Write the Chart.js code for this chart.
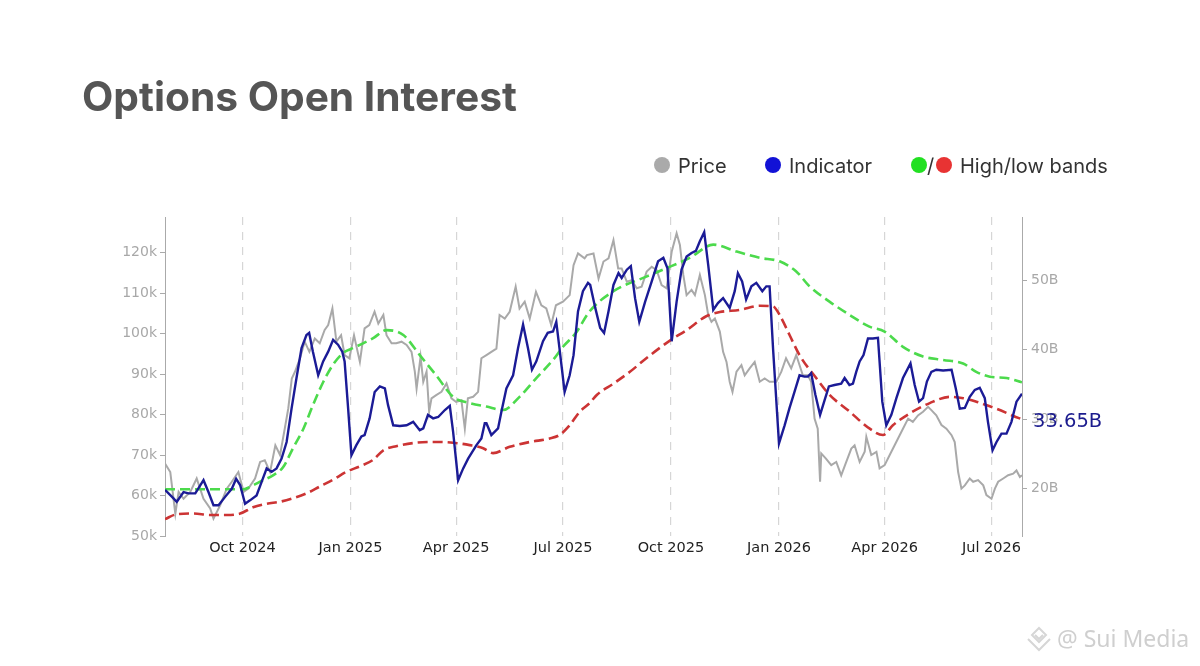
<!DOCTYPE html>
<html>
<head>
<meta charset="utf-8">
<script src="https://cdn.jsdelivr.net/npm/chart.js@4.4.1/dist/chart.umd.min.js"></script>
<style>
  html, body { margin: 0; padding: 0; background: #fff; }
  #wrap { position: relative; width: 1200px; height: 666px; overflow: hidden; }
  #chartBox { position: absolute; left: 0; top: 0; width: 1200px; height: 666px; }
  .title { position: absolute; left: 82px; top: 77px; font-family: Inter, "Noto Sans", sans-serif;
           font-weight: 700; font-size: 40.7px; line-height: 40px; color: #555; white-space: nowrap; }
  .lg { position: absolute; top: 156px; font-family: Inter, "Noto Sans", sans-serif; font-size: 20px;
        line-height: 20px; color: #333; white-space: nowrap; }
  .dot { position: absolute; top: 157px; width: 16px; height: 16px; border-radius: 50%; }
  .mark { position: absolute; left: 1057px; top: 624px; font-family: "Noto Sans", sans-serif; font-size: 23px;
          line-height: 28px; color: #cfcfcf; white-space: nowrap; }
  .logo { position: absolute; left: 1024px; top: 626px; }
</style>
</head>
<body>
<div id="wrap">
  <div id="chartBox"><canvas id="chartOI"></canvas></div>
  <div class="title">Options Open Interest</div>
  <span class="dot" style="left:654px;background:#aaaaaa"></span>
  <span class="lg" style="left:678px">Price</span>
  <span class="dot" style="left:765px;background:#1212d6"></span>
  <span class="lg" style="left:789px">Indicator</span>
  <span class="dot" style="left:911px;background:#22e022"></span>
  <span class="lg" style="left:927px">/</span>
  <span class="dot" style="left:936px;background:#e83333"></span>
  <span class="lg" style="left:960px">High/low bands</span>
  <svg class="logo" width="30" height="26" viewBox="0 0 30 26">
    <g fill="none" stroke="#d6d6d6" stroke-width="2">
      <path d="M15 2 L22 9 L15 16 L8 9 Z"/>
      <path d="M4 13 L15 24 L26 13"/>
      <path d="M11 9 L15 13 L19 9"/>
    </g>
  </svg>
  <div class="mark">@ Sui Media</div>
</div>
<script>
// x values are days since 27 Jul 2024
const quarterDays = [66, 158, 248, 339, 431, 523, 613, 704];
const quarterLabels = ['Oct 2024', 'Jan 2025', 'Apr 2025', 'Jul 2025', 'Oct 2025', 'Jan 2026', 'Apr 2026', 'Jul 2026'];

// Price (left axis, thousands)
const priceDays = [0, 4.5, 8.8, 11.6, 15.8, 21.5, 27, 32.8, 38.5, 41.3, 47, 52.6, 56.9, 62.5, 67, 71, 76.7, 81, 85, 89.5,
  94, 98, 102, 105, 108, 110.6, 115, 119, 123, 127.6, 131.8, 136, 139, 142.6, 146, 150, 153, 157, 161, 166,
  170, 174, 178.5, 181.7, 186, 188.7, 193, 197, 201.5, 205.8, 210, 212.8, 214.3, 217.7, 220, 222.8, 225, 227, 231, 235.5,
  239.8, 244, 248, 252.5, 255.4, 258, 262.5, 266.7, 269.5, 273.8, 278, 282.3, 285, 289.4, 293.6, 298.7, 302, 306.4, 310.7, 316,
  320.6, 324.8, 329, 333, 339, 344.7, 348, 351.8, 357.4, 359.4, 365, 369.3, 373.5, 377.8, 382, 386, 389, 393.4, 397.6, 401.8,
  406, 410.3, 414.6, 418.8, 423, 427.3, 431.6, 435.8, 438.6, 441.5, 444.3, 448.5, 451.4, 455.6, 459.9, 462.7, 465.5, 468.4, 472.6, 475.4,
  478.3, 481, 483.4, 486.8, 491, 493.8, 498, 502.3, 506.6, 510.8, 515, 520.7, 525, 529, 533.4, 537.7, 543.3, 547.6, 550.4, 553.3,
  556, 558, 559, 563, 567.5, 571.8, 576, 580.3, 584.6, 587.4, 591.7, 596, 597.4, 601.6, 606, 608.7, 613, 617.3, 621.5, 624.4,
  628.6, 633, 637, 641.4, 645.7, 650, 652.8, 657, 661.4, 665.6, 670, 672.7, 675.6, 678.4, 681.3, 685.5, 688.4, 692.6, 697, 699.7,
  704, 706.9, 709.7, 714, 718.2, 722.5, 725.3, 728.2, 730];
const priceK = [67.9, 65.8, 55.5, 60.9, 59.2, 60.9, 64.2, 59.2, 56.8, 54.3, 57.6, 61.7, 63.4, 65.8, 60.9, 61.7, 64.2, 68.3, 68.7, 65.8,
  72.4, 70, 76.5, 81.5, 88.9, 90.5, 93.9, 98, 95.5, 98.8, 97.6, 100.9, 102.1, 106.2, 98, 99.6, 94.7, 93.9, 99.6, 93,
  101.3, 102.1, 105.4, 102.5, 104.6, 99.6, 97.6, 97.6, 98, 97.2, 95.5, 90.6, 86.4, 94.3, 88.1, 90.6, 80.7, 84, 84.8, 85.6,
  87.7, 84, 83.1, 83.5, 76.5, 84, 84.4, 85.6, 93.9, 94.7, 95.5, 96.3, 104.6, 103.7, 105.4, 111.6, 106.2, 107.9, 103.7, 110.3,
  107, 106.2, 102.1, 107, 107.9, 109.5, 116.9, 119.8, 118.6, 119.4, 119.8, 113.6, 117.8, 118.6, 123.1, 116.1, 116.1, 112.8, 113.2, 111.2,
  111.6, 115.3, 116.5, 115.7, 112, 111.2, 120.2, 124.8, 121.9, 114.5, 109.5, 110.8, 109.5, 114.5, 109.5, 104.6, 102.9, 103.7, 100.5, 95.5,
  93, 88.1, 85.6, 90.6, 92.2, 89.7, 91.4, 93, 88.1, 88.9, 88.1, 88.1, 90.6, 93.9, 91.4, 94.7, 89.7, 89.7, 88.1, 79,
  76.5, 63.4, 70.4, 69.1, 67.5, 68.3, 65, 68.3, 71.6, 72.4, 68.3, 70.8, 74.5, 70, 70.8, 66.7, 67.5, 70, 72.4, 74.1,
  76.5, 79, 78.2, 79.8, 80.7, 81.9, 81.1, 79.8, 77.4, 76.5, 74.9, 73.2, 65.8, 61.7, 62.5, 64.2, 63.4, 63.8, 62.5, 60.1,
  59.2, 61.7, 63.4, 64.2, 65, 65.4, 66.2, 64.6, 65];

// Indicator (right axis, billions)
const indDays = [0, 6, 10, 15.8, 20, 25.8, 32.8, 37, 41.3, 45.6, 51.2, 57, 60.6, 64, 68.2, 72.4, 78, 82.4, 86.6, 90.8,
  95, 99.3, 103.6, 107.8, 112, 116.3, 120.5, 122.8, 126, 130.5, 134.7, 139, 143.2, 147.4, 151, 153, 156, 158.8, 163, 167.3,
  170, 174.3, 178.6, 183, 187.3, 190, 194.4, 200, 205.8, 211.4, 217, 220, 224, 228.4, 232.7, 238.4, 242.6, 245.4, 249.7, 254,
  258.2, 265.3, 269.5, 272.4, 273.8, 278, 283.7, 286.5, 290.8, 296.5, 300.7, 305, 309.2, 312.6, 316.3, 322, 326, 330.5, 333.3, 336,
  340.4, 344.7, 348, 351.8, 356, 360.3, 362.2, 366.5, 370.7, 374, 377.8, 382, 386.3, 389, 393.4, 396.8, 400.4, 404, 409, 414.6,
  420, 424.5, 428, 431.6, 435.8, 440, 444.3, 448.5, 452.2, 455.6, 459.3, 462.7, 467, 471, 475.4, 481, 485.3, 488, 491.6, 495,
  499.5, 503.7, 508.8, 512.2, 515, 518, 523, 527.8, 532, 536.2, 540.5, 544.7, 547.6, 550.4, 554, 558, 561.8, 565.5, 570.3, 576,
  578.9, 583, 586, 588.8, 591.7, 595, 598.8, 603, 607.3, 611, 614.4, 618.7, 623, 628.6, 635, 638.6, 642.3, 645.7, 649, 652.8,
  657, 662.8, 670, 673.6, 677, 681.3, 685.5, 689.8, 694, 698.3, 701, 704.9, 708.3, 712.5, 716.8, 721, 725.3, 730];
const indB = [19.8, 18.8, 18.1, 19.5, 19.3, 19.3, 21.2, 19.5, 17.6, 17.6, 18.8, 20, 21.4, 20.5, 17.8, 18.3, 19, 21, 22.9, 22.4,
  22.9, 24.3, 26.7, 31.5, 35.9, 40.2, 42.1, 42.4, 39.7, 36.3, 38.3, 39.7, 41.4, 40.7, 39.7, 38.3, 31.5, 24.8, 26.25, 27.5,
  27.7, 30.1, 33.9, 34.7, 34.4, 32, 29.1, 29, 29.1, 29.6, 28.4, 28.65, 30.6, 30.1, 30.3, 31.3, 31.9, 28.2, 21.2, 22.9,
  24.3, 26.25, 27.2, 29.4, 29.4, 27.7, 28.65, 31, 34.4, 36.3, 40.2, 43.6, 40.2, 37.1, 38.3, 41.2, 42.4, 42.6, 44, 40.2,
  33.9, 36.3, 39.2, 45.5, 48.4, 49.6, 49.3, 46, 43.1, 42.4, 45.5, 49.3, 51, 50.3, 51.5, 52, 47.4, 44, 46.9, 49.8,
  52.7, 53.2, 51.7, 41.2, 46.9, 51.5, 53.4, 53.9, 54.2, 55.6, 56.9, 52.2, 45.7, 46.7, 47.4, 46, 48.4, 51, 49.8, 47.2,
  49.1, 49.6, 48.4, 49.1, 49.1, 40, 26.5, 29.1, 31.6, 33.9, 36.3, 36.1, 36.1, 36.6, 33.5, 30.6, 32.7, 34.7, 34.9, 35.1,
  35.9, 34.9, 35.1, 36.8, 38.3, 39.2, 41.6, 41.6, 41.7, 32.5, 29.1, 30.6, 33, 35.9, 38, 34.9, 32.5, 33, 35.4, 36.8,
  37.1, 37, 37.1, 34.4, 31.5, 31.6, 33.2, 34.2, 34.5, 33, 29.6, 25.5, 26.7, 27.9, 27.9, 29.6, 32.5, 33.65];

// High band (right axis, billions)
const highDays = [0, 30, 67, 72, 81, 92, 100.7, 109, 118, 126, 135, 143, 151.7, 160, 168.7, 177, 188.7, 203, 217, 231,
  245.4, 259.6, 273.8, 288, 302, 316.3, 330.5, 339, 350, 361.7, 382, 410, 427, 447, 467, 487, 506.6, 523.5, 537.7, 549,
  566, 583, 600, 613, 628.6, 645.7, 662.8, 679.8, 691, 702.6, 716.8, 730];
const highB = [19.9, 19.9, 19.9, 20.2, 21, 21.9, 23.1, 25.8, 28.65, 32, 35.4, 37.8, 39.5, 40.2, 40.9, 41.6, 42.8, 42.1, 39.2, 36.3,
  33.2, 32.3, 31.8, 31.3, 33.2, 35.9, 38.5, 40.4, 42.4, 45.5, 48.4, 50.5, 51.7, 53.2, 55.1, 54.1, 53.2, 52.7, 51.25, 49.1,
  46.9, 45, 43.3, 42.6, 40.4, 39, 38.5, 38, 36.8, 36.1, 35.9, 35.3];

// Low band (right axis, billions)
const lowDays = [0, 10, 24, 38.5, 52.6, 64, 75, 86.6, 98, 109, 120.5, 132, 143, 154.5, 166, 177, 186, 197, 214, 231,
  245.4, 259.6, 271, 279.5, 293.6, 310.7, 327.7, 336, 344.7, 353, 361.7, 368, 382, 396, 410, 431, 444.3, 461, 472.6, 489.6,
  506.6, 518, 523.5, 532, 540.5, 554.7, 566, 583, 600, 611.6, 620, 634.3, 651.4, 668.5, 680, 691, 708, 728, 730];
const lowB = [15.6, 16.3, 16.4, 16.2, 16.2, 16.4, 17.3, 17.8, 18.1, 18.6, 19.3, 20.3, 21.25, 22.4, 23.2, 24.1, 25.5, 26.1, 26.6, 26.7,
  26.6, 26.25, 25.8, 25.1, 26, 26.7, 27.2, 27.7, 29.1, 31, 32.3, 33.5, 35.1, 36.8, 38.75, 41.4, 42.8, 44.8, 45.4, 45.7,
  46.3, 46.2, 45, 42.1, 39.2, 35.9, 33.5, 31.1, 28.65, 27.7, 29.1, 30.8, 32.3, 33.2, 33, 32.5, 31.5, 30.1, 30];

const lastLabel = '33.65B';

const toPoints = (days, vals) => days.map((d, i) => ({ x: d, y: vals[i] }));

Chart.defaults.font.family = '"DejaVu Sans", sans-serif';

const lastValuePlugin = {
  id: 'lastValue',
  afterDraw(chart) {
    const c = chart.ctx;
    const yScale = chart.scales.y1;
    c.save();
    c.font = '19.5px "DejaVu Sans"';
    c.fillStyle = '#1c1c8e';
    c.textAlign = 'left';
    c.textBaseline = 'middle';
    c.fillText(lastLabel, chart.chartArea.right + 11, yScale.getPixelForValue(30) + 3);
    c.restore();
  }
};

const ctx1 = document.getElementById('chartOI');
let config1 = {
  type: 'line',
  data: {
    datasets: [{
      label: 'Indicator',
      data: toPoints(indDays, indB),
      yAxisID: 'y1',
      borderColor: '#1b1b96',
      borderWidth: 2.4,
      pointRadius: 0,
      tension: 0,
    }, {
      label: 'Low band',
      data: toPoints(lowDays, lowB),
      yAxisID: 'y1',
      borderColor: '#cc3434',
      borderWidth: 2.6,
      borderDash: [10, 5],
      pointRadius: 0,
      cubicInterpolationMode: 'monotone',
    }, {
      label: 'High band',
      data: toPoints(highDays, highB),
      yAxisID: 'y1',
      borderColor: '#4cda4c',
      borderWidth: 2.6,
      borderDash: [10, 5],
      pointRadius: 0,
      cubicInterpolationMode: 'monotone',
    }, {
      label: 'Price',
      data: toPoints(priceDays, priceK),
      yAxisID: 'y',
      borderColor: '#a9a9a9',
      borderWidth: 2,
      pointRadius: 0,
      tension: 0,
    }]
  },
  options: {
    responsive: true,
    maintainAspectRatio: false,
    animation: false,
    layout: { padding: { top: 217, bottom: 100, left: 0, right: 0 } },
    plugins: {
      legend: { display: false },
      tooltip: { enabled: false }
    },
    scales: {
      x: {
        type: 'linear',
        min: 0,
        max: 730,
        afterFit: s => { s.height = 30; },
        afterBuildTicks: s => { s.ticks = quarterDays.map(v => ({ value: v })); },
        ticks: {
          autoSkip: false,
          maxRotation: 0,
          padding: 4,
          color: '#222',
          font: { size: 14.5 },
          callback: value => quarterLabels[quarterDays.indexOf(value)]
        },
        grid: { color: '#d6d6d6', lineWidth: 1.2, drawTicks: false },
        border: { display: false, dash: [8, 7] }
      },
      y: {
        position: 'left',
        min: 50,
        max: 128.8,
        afterFit: s => { s.width = 165; },
        ticks: {
          stepSize: 10,
          includeBounds: false,
          padding: 3,
          color: '#a8a8a8',
          font: { size: 14 },
          callback: value => `${value}k`
        },
        grid: { drawOnChartArea: false, drawTicks: true, tickLength: 5, tickColor: '#aaa' },
        border: { color: '#aaa', width: 1 }
      },
      y1: {
        position: 'right',
        min: 13.17,
        max: 59.08,
        afterFit: s => { s.width = 178; },
        ticks: {
          stepSize: 10,
          includeBounds: false,
          padding: 4,
          color: '#a8a8a8',
          font: { size: 14 },
          callback: value => `${value}B`
        },
        grid: { drawOnChartArea: false, drawTicks: true, tickLength: 5, tickColor: '#aaa' },
        border: { color: '#aaa', width: 1 }
      }
    }
  },
  plugins: [lastValuePlugin]
};
let chartOI = new Chart(ctx1, config1);
</script>
</body>
</html>
